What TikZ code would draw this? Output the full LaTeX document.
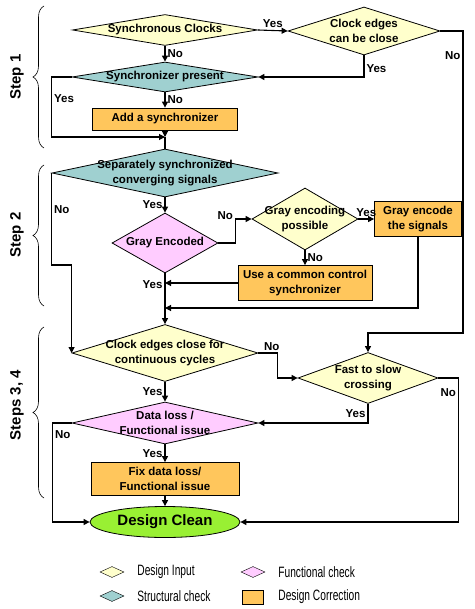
\documentclass[tikz,border=0pt]{standalone}
\usepackage{fontspec}
\setmainfont{Liberation Sans}
\newfontfamily\narrowfont[FakeStretch=0.68]{Liberation Sans}
\usepackage{tikz}
\usetikzlibrary{arrows.meta, positioning, shapes.geometric, decorations.pathreplacing}
\usepackage{xcolor}
\definecolor{inputyel}{HTML}{FFFFCC}
\definecolor{structblue}{HTML}{9FD0D0}
\definecolor{funcpink}{HTML}{FFCCFF}
\definecolor{corrorange}{HTML}{FFC65C}
\definecolor{cleangreen}{HTML}{99F033}

\tikzset{
  dia/.style={draw, shape=diamond, inner sep=0pt, line width=0.8pt},
  txt/.style={font=\bfseries\fontsize{11.5}{14.5}\selectfont, align=center, inner sep=0pt},
  corr/.style={draw, rectangle, fill=corrorange, line width=0.8pt, inner sep=1pt,
    font=\bfseries\fontsize{11.5}{14.5}\selectfont, align=center},
  arr/.style={line width=1.1pt, -{Triangle[length=6pt,width=6pt]}},
  lbl/.style={font=\bfseries\fontsize{11.5}{12}\selectfont, inner sep=2pt},
  stepbrace/.style={decorate, decoration={brace, amplitude=11pt}, line width=0.6pt},
  steplbl/.style={font=\bfseries\fontsize{15}{16}\selectfont, rotate=90},
  legtxt/.style={font=\narrowfont\fontsize{15}{16}\selectfont, anchor=west, inner sep=0pt}
}

\begin{document}
\begin{tikzpicture}[x=1pt, y=-1pt]
    \useasboundingbox (0,0) rectangle (474,609);

    % Step 1
    \node[dia, fill=inputyel, minimum width=185pt, minimum height=31pt,
      label={[txt]center:Synchronous Clocks}] (sync) at (165,30) {};
    \node[dia, fill=inputyel, minimum width=152pt, minimum height=48pt,
      label={[txt]center:{Clock edges\\can be close}}] (edgeclose) at (364,31) {};
    \node[dia, fill=structblue, minimum width=186pt, minimum height=30pt,
      label={[txt]center:Synchronizer present}] (syncpres) at (165,77) {};
    \node[corr, minimum width=145pt, minimum height=22pt] (addsync) at (165,119) {Add a synchronizer};

    % Step 2
    \node[dia, fill=structblue, minimum width=226pt, minimum height=48pt,
      label={[txt]center:{Separately synchronized\\converging signals}}] (sepsync) at (165,173) {};
    \node[dia, fill=funcpink, minimum width=106pt, minimum height=60pt,
      label={[txt]center:Gray Encoded}] (grayenc) at (165,243) {};
    \node[dia, fill=inputyel, minimum width=106pt, minimum height=62pt,
      label={[txt]center:{Gray encoding\\possible}}] (grayposs) at (305,219) {};
    \node[corr, minimum width=87pt, minimum height=35pt] (graysig) at (418,219) {Gray encode\\the signals};
    \node[corr, minimum width=134pt, minimum height=35pt] (commonsync) at (305,283) {Use a common control\\synchronizer};

    % Steps 3, 4
    \node[dia, fill=inputyel, minimum width=186pt, minimum height=57pt,
      label={[txt]center:{Clock edges close for\\continuous cycles}}] (edgecont) at (165,353) {};
    \node[dia, fill=inputyel, minimum width=140pt, minimum height=51pt,
      label={[txt]center:{Fast to slow\\crossing}}] (fastslow) at (368,378) {};
    \node[dia, fill=funcpink, minimum width=186pt, minimum height=42pt,
      label={[txt]center:{Data loss /\\Functional issue}}] (dataloss) at (165,423) {};
    \node[corr, minimum width=148pt, minimum height=33pt] (fixloss) at (165,479) {Fix data loss/\\Functional issue};
    \node[draw, ellipse, fill=cleangreen, line width=0.8pt, inner sep=0pt,
      minimum width=150pt, minimum height=31pt, font=\bfseries\fontsize{15}{16}\selectfont] (clean) at (165,522) {Design Clean};

    % Step 1 connectors
    \draw[arr] (sync.east) -- node[lbl, above] {Yes} (edgeclose.west);
    \draw[arr] (sync.south) -- node[lbl, right] {No} (syncpres.north);
    \draw[arr] (edgeclose.south) |- node[lbl, right, pos=0.3] {Yes} (syncpres.east);
    \coordinate (rightturn) at (463,333);
    \draw[arr] (edgeclose.east) -| node[lbl, left, pos=0.54] {No} (rightturn) -| (fastslow.north);
    \draw[arr] (syncpres.south) -- node[lbl, right] {No} (addsync.north);
    \coordinate (join1) at (165,137);
    \draw[arr] (syncpres.west) -- ++(-20,0) |- node[lbl, right, pos=0.18] {Yes} (join1);
    \draw[arr] (addsync.south) -- (join1);
    \draw[line width=1.1pt] (join1) -- (sepsync.north);

    % Step 2 connectors
    \draw[arr] (sepsync.south) -- node[lbl, left] {Yes} (grayenc.north);
    \draw[arr] (sepsync.west) -- node[lbl, right, pos=0.4] {No} ++(0,92) -| (edgecont.west);
    \draw[arr] (grayenc.east) -- ++(17,0) |- node[lbl, left, yshift=3pt, pos=0.5] {No} (grayposs.west);
    \draw[arr] (grayposs.east) -- node[lbl, above] {Yes} (graysig.west);
    \draw[arr] (grayposs.south) -- node[lbl, right] {No} (commonsync.north);
    \coordinate (join2) at (165,308);
    \draw[arr] (commonsync.west) -- (commonsync.west -| grayenc.south);
    \draw[arr] (graysig.south) |- (join2);
    \draw[arr] (grayenc.south) -- node[lbl, left, pos=0.23] {Yes} (edgecont.north);

    % Steps 3, 4 connectors
    \draw[arr] (edgecont.east) -- node[lbl, above, pos=0.7] {No} ++(19,0) |- (fastslow.west);
    \draw[arr] (fastslow.east) -- ++(20,0) |- node[lbl, left, pos=0.05] {No} (clean.east);
    \draw[arr] (fastslow.south) |- node[lbl, left, pos=0.25] {Yes} (dataloss.east);
    \draw[arr] (edgecont.south) -- node[lbl, left] {Yes} (dataloss.north);
    \draw[arr] (dataloss.west) -- ++(-19,0) |- node[lbl, right, pos=0.06] {No} (clean.west);
    \draw[arr] (dataloss.south) -- node[lbl, left] {Yes} (fixloss.north);
    \draw[arr] (fixloss.south) -- (clean.north);

    % Braces and step names
    \draw[stepbrace] (44,148) -- (44,6);
    \node[steplbl] (step1) at (17,77) {Step 1};
    \draw[stepbrace] (44,306) -- (44,165);
    \node[steplbl] (step2) at (17,235) {Step 2};
    \draw[stepbrace] (44,498) -- (44,327);
    \node[steplbl] (step34) at (17,405) {Steps 3, 4};

    % Legend
    \node[dia, fill=inputyel, line width=0.4pt, minimum width=24pt, minimum height=11pt] (leginput) at (112,572) {};
    \node[legtxt, right=13pt of leginput] (leginputtxt) {Design Input};
    \node[dia, fill=structblue, line width=0.4pt, minimum width=24pt, minimum height=11pt] (legstruct) at (112,596) {};
    \node[legtxt, right=13pt of legstruct] (legstructtxt) {Structural check};
    \node[dia, fill=funcpink, line width=0.4pt, minimum width=24pt, minimum height=11pt] (legfunc) at (253,572) {};
    \node[legtxt, right=13pt of legfunc] (legfunctxt) {Functional check};
    \node[draw, fill=corrorange, line width=0.4pt, minimum width=21pt, minimum height=14pt, inner sep=0pt] (legcorr) at (253,597) {};
    \node[legtxt, right=14.5pt of legcorr] (legcorrtxt) {Design Correction};
\end{tikzpicture}
\end{document}
